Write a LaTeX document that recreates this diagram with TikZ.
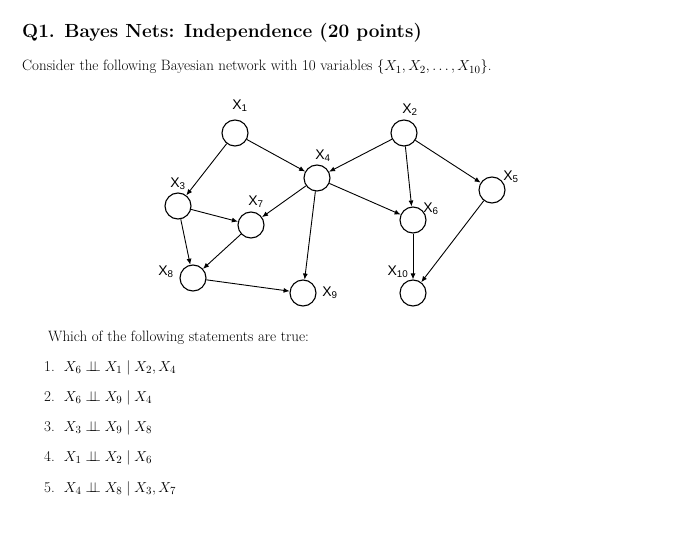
\documentclass[tikz,border=0pt]{standalone}
\usetikzlibrary{arrows.meta}
\usepackage{fontspec}
\usepackage{amsmath}
\newfontfamily\lab{Liberation Sans}
\begin{document}
\begin{tikzpicture}[x=1pt,y=-1pt,
  var/.style={circle,draw,line width=1.1pt,minimum size=26pt,inner sep=0pt},
  lb/.style={font=\lab\fontsize{14}{14}\selectfont,inner sep=0pt},
  edge/.style={-{Latex[length=6pt,width=5pt]},line width=0.9pt},
  txt/.style={anchor=base west,inner sep=0pt,font=\fontsize{15}{17}\selectfont}]
\useasboundingbox (0,0) rectangle (684,537);
\node[var] (x1) at (235,133) {};
\node[var] (x2) at (404,133) {};
\node[var] (x4) at (317,178) {};
\node[var] (x3) at (178,206) {};
\node[var] (x7) at (251,225) {};
\node[var] (x6) at (413,220) {};
\node[var] (x5) at (492,190) {};
\node[var] (x8) at (193,278) {};
\node[var] (x9) at (303,293) {};
\node[var] (x10) at (413,293) {};
\node[lb] (l1) at (240,106) {X\textsubscript{1}};
\node[lb] (l2) at (410,110) {X\textsubscript{2}};
\node[lb] (l4) at (323,156) {X\textsubscript{4}};
\node[lb] (l3) at (178,184) {X\textsubscript{3}};
\node[lb] (l7) at (256,202) {X\textsubscript{7}};
\node[lb] (l6) at (431,209) {X\textsubscript{6}};
\node[lb] (l5) at (511,177) {X\textsubscript{5}};
\node[lb] (l8) at (166,272) {X\textsubscript{8}};
\node[lb] (l9) at (330,293) {X\textsubscript{9}};
\node[lb] (l10) at (398,272) {X\textsubscript{10}};
\draw[edge] (x1) -- (x3);
\draw[edge] (x1) -- (x4);
\draw[edge] (x2) -- (x4);
\draw[edge] (x2) -- (x6);
\draw[edge] (x2) -- (x5);
\draw[edge] (x4) -- (x7);
\draw[edge] (x4) -- (x9);
\draw[edge] (x4) -- (x6);
\draw[edge] (x3) -- (x7);
\draw[edge] (x3) -- (x8);
\draw[edge] (x7) -- (x8);
\draw[edge] (x8) -- (x9);
\draw[edge] (x6) -- (x10);
\draw[edge] (x5) -- (x10);
\node[txt,font=\fontsize{19}{22}\selectfont\bfseries] (title) at (22,38) {Q1. Bayes Nets: Independence (20 points)};
\node[txt] (intro) at (22,71) {Consider the following Bayesian network with 10 variables $\{X_1, X_2, \ldots, X_{10}\}$.};
\node[txt] (q) at (48,341) {Which of the following statements are true:};
\newcommand{\indep}{\perp\!\!\!\perp}
\node[txt] (s1) at (44,371) {1.\ \ $X_6 \indep X_1 \mid X_2, X_4$};
\node[txt] (s2) at (44,401) {2.\ \ $X_6 \indep X_9 \mid X_4$};
\node[txt] (s3) at (44,431) {3.\ \ $X_3 \indep X_9 \mid X_8$};
\node[txt] (s4) at (44,461) {4.\ \ $X_1 \indep X_2 \mid X_6$};
\node[txt] (s5) at (44,492) {5.\ \ $X_4 \indep X_8 \mid X_3, X_7$};
\end{tikzpicture}
\end{document}
